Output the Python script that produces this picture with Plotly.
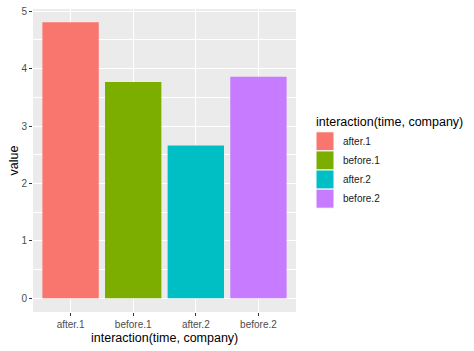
import plotly.graph_objects as go

categories = ["after.1", "before.1", "after.2", "before.2"]
values = [4.81, 3.77, 2.66, 3.86]
colors = ["#F8766D", "#7CAE00", "#00BFC4", "#C77CFF"]
y_ticks = [0, 1, 2, 3, 4, 5]
axis_x_title = "interaction(time, company)"
axis_y_title = "value"
legend_title = "interaction(time, company)"

W, H = 474, 351
L, R, T, B = 33, 296, 6, 312  # panel edges in px

FONT = "Liberation Sans, Arial, sans-serif"

fig = go.Figure()
fig.add_trace(go.Bar(
    x=categories, y=values, width=0.9,
    marker=dict(color=colors, line=dict(width=0)),
    showlegend=False, hoverinfo="x+y",
))

def px_x(p):
    return (p - L) / (R - L)

def px_y(p):
    return (B - p) / (B - T)

shapes = []
annotations = []

# manual ggplot-style legend
key_x0, key_x1 = 316, 334
key_top = 130
key_h = 19.3
for i, (cat, col) in enumerate(zip(categories, colors)):
    y0 = key_top + i * key_h
    y1 = y0 + key_h
    shapes.append(dict(type="rect", xref="paper", yref="paper",
                       x0=px_x(key_x0), x1=px_x(key_x1),
                       y0=px_y(y1), y1=px_y(y0),
                       fillcolor=col, line=dict(color="white", width=1), layer="above"))
    annotations.append(dict(xref="paper", yref="paper", x=px_x(341), y=px_y((y0 + y1) / 2),
                            text=cat, showarrow=False, xanchor="left", yanchor="middle",
                            font=dict(family=FONT, size=10, color="#1A1A1A")))

annotations.append(dict(xref="paper", yref="paper", x=px_x(314), y=px_y(120),
                        text=legend_title, showarrow=False, xanchor="left", yanchor="middle",
                        font=dict(family=FONT, size=12.5, color="#000000")))

annotations.append(dict(xref="paper", yref="paper", x=0.5, y=px_y(338),
                        text=axis_x_title, showarrow=False, xanchor="center", yanchor="middle",
                        font=dict(family=FONT, size=12.5, color="#000000")))
annotations.append(dict(xref="paper", yref="paper", x=px_x(13), y=0.5,
                        text=axis_y_title, showarrow=False, xanchor="center", yanchor="middle",
                        textangle=-90,
                        font=dict(family=FONT, size=12.5, color="#000000")))

ymin, ymax = 0, max(values)
pad = 0.05 * (5.0 - ymin)
fig.update_layout(
    width=W, height=H,
    margin=dict(l=L, r=W - R, t=T, b=H - B, pad=0),
    paper_bgcolor="white", plot_bgcolor="#EBEBEB",
    font=dict(family=FONT, size=10, color="#4D4D4D"),
    showlegend=False,
    shapes=shapes, annotations=annotations,
    bargap=0.1,
    xaxis=dict(
        type="category", range=[-0.6, len(categories) - 0.4],
        showgrid=True, gridcolor="white", gridwidth=1.1,
        ticks="outside", ticklen=3, tickwidth=1, tickcolor="#333333",
        tickfont=dict(family=FONT, size=10, color="#4D4D4D"),
        zeroline=False, showline=False, fixedrange=True,
    ),
    yaxis=dict(
        range=[-0.24, 5.04], tickvals=y_ticks,
        showgrid=True, gridcolor="white", gridwidth=1.1,
        minor=dict(showgrid=True, gridcolor="white", gridwidth=0.55, dtick=0.5, tick0=0.5),
        ticks="outside", ticklen=3, tickwidth=1, tickcolor="#333333",
        tickfont=dict(family=FONT, size=10, color="#4D4D4D"),
        zeroline=False, showline=False, fixedrange=True,
    ),
)

fig.write_html("out.html")
